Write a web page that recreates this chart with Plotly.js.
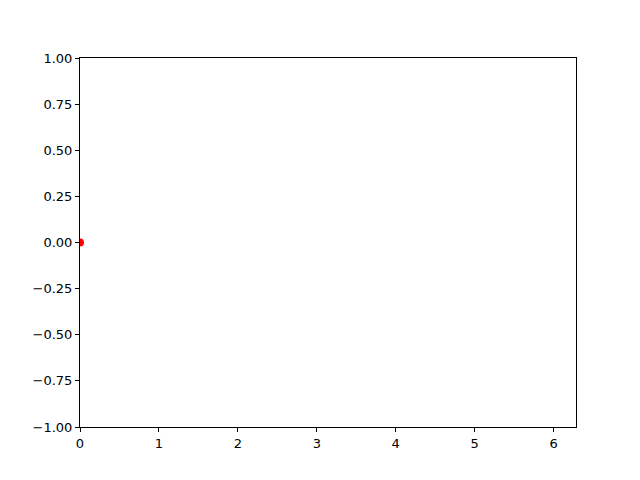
<!DOCTYPE html>
<html>
<head>
<script src="https://cdn.plot.ly/plotly-3.0.1.min.js"></script>
<style>body{margin:0;} #chart{width:640px;height:480px;}</style>
</head>
<body>
<div id="chart"></div>
<script>
// single red dot at the origin
var xs = [0];
var ys = [0];
var xRange = [0, 2 * Math.PI];
var yRange = [-1, 1];

var data = [{
  x: xs,
  y: ys,
  mode: "markers",
  marker: { color: "red", size: 8, line: { width: 0, color: "red" } },
  showlegend: false,
  cliponaxis: true
}];

var axisStyle = {
  showgrid: false,
  zeroline: false,
  showline: true,
  mirror: true,
  linecolor: "black",
  linewidth: 1,
  ticks: "outside",
  ticklen: 4,
  tickwidth: 1,
  tickcolor: "black",
  tickfont: { family: "DejaVu Sans", size: 13, color: "black" }
};

var layout = {
  width: 640,
  height: 480,
  margin: { l: 80, r: 64, t: 58, b: 53 },
  paper_bgcolor: "white",
  plot_bgcolor: "white",
  xaxis: Object.assign({}, axisStyle, { range: xRange, dtick: 1, tick0: 0 }),
  yaxis: Object.assign({}, axisStyle, { range: yRange, dtick: 0.25, tick0: -1, tickformat: ".2f" })
};

Plotly.newPlot("chart", data, layout, { staticPlot: true });
</script>
</body>
</html>
